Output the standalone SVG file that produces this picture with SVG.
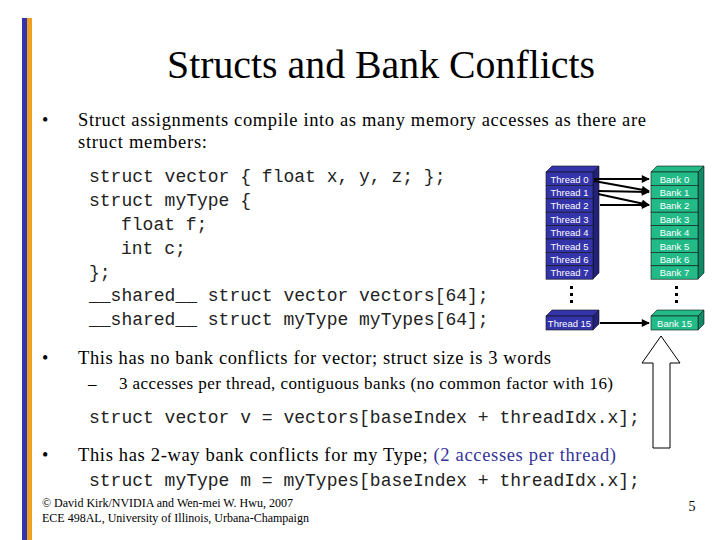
<svg xmlns="http://www.w3.org/2000/svg" width="720" height="540" viewBox="0 0 720 540">
<defs>
<style>
.t{font-family:"Liberation Serif",serif;fill:#000}
.m{font-family:"Liberation Mono",monospace;font-size:18px;fill:#222}
.th{fill:#3333aa;stroke:#111;stroke-width:0.6}
.thd{fill:#22227a;stroke:#111;stroke-width:0.6}
.bk{fill:#22bb88;stroke:#111;stroke-width:0.6}
.bkd{fill:#118866;stroke:#111;stroke-width:0.6}
.lb{font-family:"Liberation Sans",sans-serif;font-size:9.5px;fill:#fff;text-anchor:middle}
.ar{stroke:#000;stroke-width:2;marker-end:url(#ah)}
</style>
<marker id="ah" viewBox="0 0 10 10" refX="9" refY="5" markerWidth="5" markerHeight="4" orient="auto"><path d="M0,0L10,5L0,10z" fill="#000"/></marker>
</defs>
<rect width="720" height="540" fill="#fff"/>
<rect x="22" y="18" width="5" height="522" fill="#3333aa"/>
<rect x="27" y="18" width="5" height="522" fill="#f0a020"/>
<text class="t" x="381" y="78" font-size="40" text-anchor="middle" textLength="428" lengthAdjust="spacingAndGlyphs">Structs and Bank Conflicts</text>
<text class="t" x="42" y="126" font-size="18">•</text>
<text class="t" x="78" y="126" font-size="18.5" textLength="568">Struct assignments compile into as many memory accesses as there are</text>
<text class="t" x="78" y="148" font-size="18.5" textLength="129">struct members:</text>
<text class="m" x="89" y="182" xml:space="preserve">struct vector { float x, y, z; };</text>
<text class="m" x="89" y="206">struct myType {</text>
<text class="m" x="121" y="230">float f;</text>
<text class="m" x="121" y="254">int c;</text>
<text class="m" x="89" y="278">};</text>
<text class="m" x="89" y="301">__shared__ struct vector vectors[64];</text>
<text class="m" x="89" y="325">__shared__ struct myType myTypes[64];</text>
<text class="t" x="42" y="364" font-size="18">•</text>
<text class="t" x="78" y="364" font-size="18.5" textLength="473">This has no bank conflicts for vector; struct size is 3 words</text>
<text class="t" x="88" y="389" font-size="17">–</text>
<text class="t" x="119" y="389" font-size="17" textLength="494">3 accesses per thread, contiguous banks (no common factor with 16)</text>
<text class="m" x="89" y="423">struct vector v = vectors[baseIndex + threadIdx.x];</text>
<text class="t" x="42" y="461" font-size="18">•</text>
<text class="t" x="78" y="461" font-size="18.5" textLength="538">This has 2-way bank conflicts for my Type; <tspan fill="#333399">(2 accesses per thread)</tspan></text>
<text class="m" x="89" y="486">struct myType m = myTypes[baseIndex + threadIdx.x];</text>
<text class="t" x="42" y="507" font-size="12">© David Kirk/NVIDIA and Wen-mei W. Hwu, 2007</text>
<text class="t" x="42" y="522" font-size="12">ECE 498AL, University of Illinois, Urbana-Champaign</text>
<text class="t" x="692" y="511" font-size="14" text-anchor="middle">5</text>
<g id="threads">
<path class="th" d="M546,172 L552,166 L599,166 L593,172 Z"/>
<path class="thd" d="M593,172 L599,166 L599,273 L593,279 Z"/>
<rect class="th" x="546" y="172" width="47" height="13.4"/><text class="lb" x="569.5" y="182.5">Thread 0</text>
<rect class="th" x="546" y="185.4" width="47" height="13.4"/><text class="lb" x="569.5" y="195.9">Thread 1</text>
<rect class="th" x="546" y="198.8" width="47" height="13.4"/><text class="lb" x="569.5" y="209.3">Thread 2</text>
<rect class="th" x="546" y="212.2" width="47" height="13.4"/><text class="lb" x="569.5" y="222.7">Thread 3</text>
<rect class="th" x="546" y="225.6" width="47" height="13.4"/><text class="lb" x="569.5" y="236.1">Thread 4</text>
<rect class="th" x="546" y="239" width="47" height="13.4"/><text class="lb" x="569.5" y="249.5">Thread 5</text>
<rect class="th" x="546" y="252.4" width="47" height="13.4"/><text class="lb" x="569.5" y="262.9">Thread 6</text>
<rect class="th" x="546" y="265.8" width="47" height="13.4"/><text class="lb" x="569.5" y="276.3">Thread 7</text>
<path class="th" d="M546,316 L552,310 L599,310 L593,316 Z"/>
<path class="thd" d="M593,316 L599,310 L599,324 L593,330 Z"/>
<rect class="th" x="546" y="316" width="47" height="14"/><text class="lb" x="569.5" y="326.5">Thread 15</text>
<g fill="#000"><rect x="570" y="286" width="3" height="3"/><rect x="570" y="293" width="3" height="3"/><rect x="570" y="300" width="3" height="3"/></g>
</g>
<g id="banks">
<path class="bk" d="M651,172 L657,166 L704,166 L698,172 Z"/>
<path class="bkd" d="M698,172 L704,166 L704,273 L698,279 Z"/>
<rect class="bk" x="651" y="172" width="47" height="13.4"/><text class="lb" x="674.5" y="182.5">Bank 0</text>
<rect class="bk" x="651" y="185.4" width="47" height="13.4"/><text class="lb" x="674.5" y="195.9">Bank 1</text>
<rect class="bk" x="651" y="198.8" width="47" height="13.4"/><text class="lb" x="674.5" y="209.3">Bank 2</text>
<rect class="bk" x="651" y="212.2" width="47" height="13.4"/><text class="lb" x="674.5" y="222.7">Bank 3</text>
<rect class="bk" x="651" y="225.6" width="47" height="13.4"/><text class="lb" x="674.5" y="236.1">Bank 4</text>
<rect class="bk" x="651" y="239" width="47" height="13.4"/><text class="lb" x="674.5" y="249.5">Bank 5</text>
<rect class="bk" x="651" y="252.4" width="47" height="13.4"/><text class="lb" x="674.5" y="262.9">Bank 6</text>
<rect class="bk" x="651" y="265.8" width="47" height="13.4"/><text class="lb" x="674.5" y="276.3">Bank 7</text>
<path class="bk" d="M651,316 L657,310 L704,310 L698,316 Z"/>
<path class="bkd" d="M698,316 L704,310 L704,324 L698,330 Z"/>
<rect class="bk" x="651" y="316" width="47" height="14"/><text class="lb" x="674.5" y="326.5">Bank 15</text>
<g fill="#000"><rect x="675" y="286" width="3" height="3"/><rect x="675" y="293" width="3" height="3"/><rect x="675" y="300" width="3" height="3"/></g>
</g>
<g id="connectors">
<line class="ar" x1="594" y1="179" x2="649" y2="179"/>
<line class="ar" x1="594" y1="181" x2="649" y2="191"/>
<line class="ar" x1="598" y1="191" x2="649" y2="192"/>
<line class="ar" x1="598" y1="194" x2="649" y2="205"/>
<line class="ar" x1="600" y1="205" x2="649" y2="205"/>
<line class="ar" x1="600" y1="323" x2="649" y2="323"/>
<path d="M661,336 L680,363 L670,363 L670,448 L653,448 L653,363 L642,363 Z" fill="#fff" stroke="#000" stroke-width="1"/>
</g>
</svg>
